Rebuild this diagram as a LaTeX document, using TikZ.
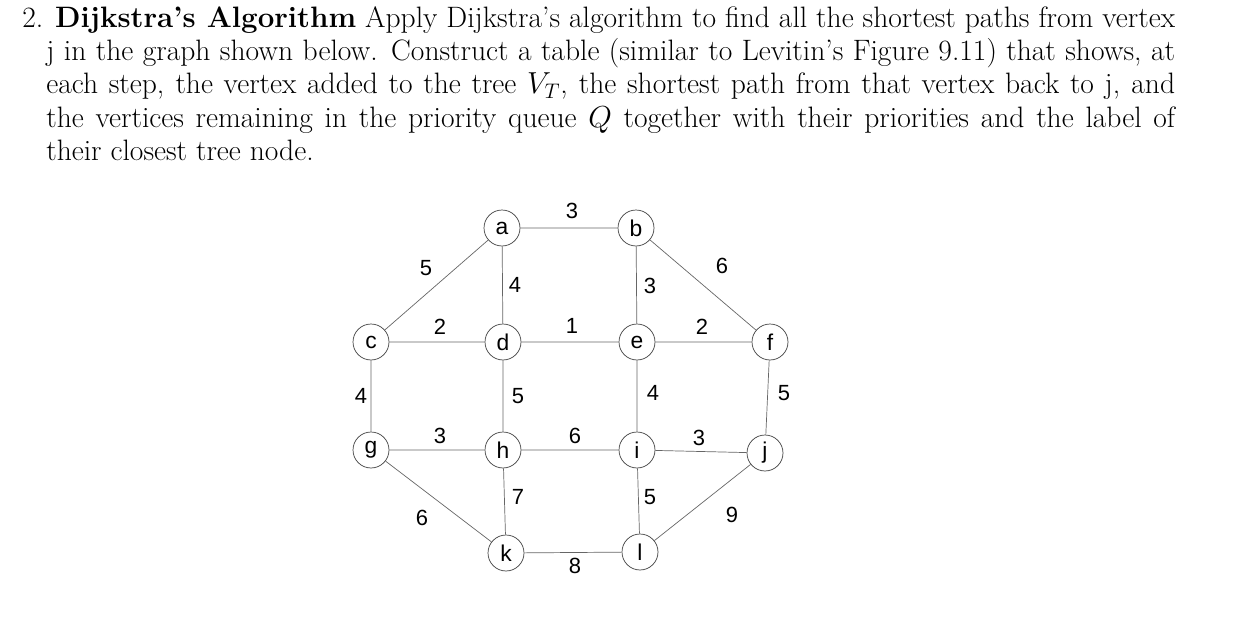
\documentclass[tikz,border=0pt]{standalone}
\usepackage{fontspec}
\newfontfamily\graphfont{Liberation Sans}
\tikzset{
  vtx/.style={draw=black!75,circle,minimum size=0.72cm,inner sep=0pt,font=\graphfont\fontsize{13}{13}\selectfont},
  wt/.style={font=\graphfont\fontsize{12.5}{13}\selectfont},
  edg/.style={draw=black!60,thin}
}
\begin{document}
\begin{tikzpicture}[x=0.02cm,y=-0.02cm]
\useasboundingbox (0,0) rectangle (1242,636);
\node[anchor=north west,inner sep=0pt,text width=23.06cm,align=justify] (txt) at (22,6)
  {\fontsize{16.8}{19}\selectfont\hangindent=0.48cm\hangafter=1
   2. \textbf{Dijkstra's Algorithm} Apply Dijkstra's algorithm to find all the shortest paths from vertex\linebreak
   j in the graph shown below. Construct a table (similar to Levitin's Figure 9.11) that shows, at\linebreak
   each step, the vertex added to the tree $V_T$, the shortest path from that vertex back to j, and\linebreak
   the vertices remaining in the priority queue $Q$ together with their priorities and the label of\linebreak
   their closest tree node.\par};
% vertices
\node[vtx] (a) at (502,228) {a};
\node[vtx] (b) at (636,228) {b};
\node[vtx] (c) at (371,342) {c};
\node[vtx] (d) at (503,342) {d};
\node[vtx] (e) at (637,342) {e};
\node[vtx] (f) at (770,342) {f};
\node[vtx] (g) at (371,450) {g};
\node[vtx] (h) at (503,450) {h};
\node[vtx] (i) at (637,450) {i};
\node[vtx] (j) at (765,453) {j};
\node[vtx] (k) at (506,553) {k};
\node[vtx] (l) at (640,552) {l};
% edges
\path[edg] (a) -- (b) (c) -- (a) (a) -- (d) (b) -- (e) (b) -- (f)
  (c) -- (d) (d) -- (e) (e) -- (f) (c) -- (g) (d) -- (h) (e) -- (i) (f) -- (j)
  (g) -- (h) (h) -- (i) (i) -- (j) (g) -- (k) (h) -- (k) (i) -- (l) (j) -- (l) (k) -- (l);
% weights
\node[wt] (wab) at (572,211) {3};
\node[wt] (wca) at (426,268) {5};
\node[wt] (wad) at (515,285) {4};
\node[wt] (wbe) at (650,286) {3};
\node[wt] (wbf) at (722,266) {6};
\node[wt] (wcd) at (440,327) {2};
\node[wt] (wde) at (572,326) {1};
\node[wt] (wef) at (702,327) {2};
\node[wt] (wcg) at (361,396) {4};
\node[wt] (wdh) at (518,396) {5};
\node[wt] (wei) at (653,393) {4};
\node[wt] (wfj) at (784,393) {5};
\node[wt] (wgh) at (440,436) {3};
\node[wt] (whi) at (575,436) {6};
\node[wt] (wij) at (699,438) {3};
\node[wt] (wgk) at (422,518) {6};
\node[wt] (whk) at (518,497) {7};
\node[wt] (wil) at (650,497) {5};
\node[wt] (wjl) at (732,515) {9};
\node[wt] (wkl) at (575,566) {8};
\end{tikzpicture}
\end{document}
